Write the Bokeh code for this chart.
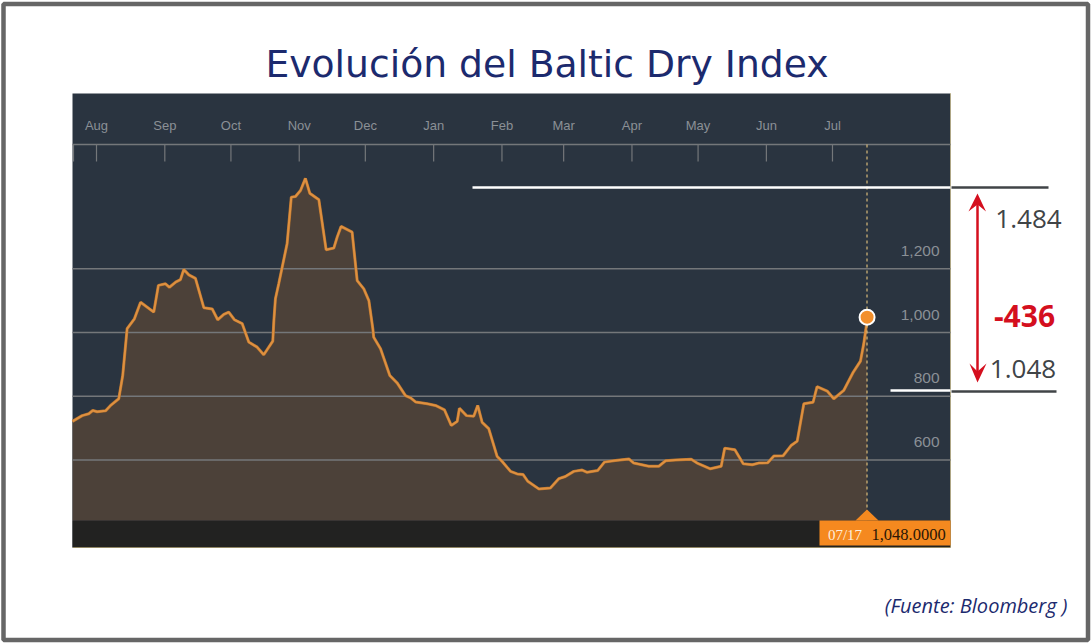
from bokeh.plotting import figure
from bokeh.models import Range1d
from bokeh.core.properties import value
from bokeh.embed import file_html
from bokeh.resources import INLINE

title = "Evolución del Baltic Dry Index"
source_note = "(Fuente: Bloomberg )"
months = ["Aug", "Sep", "Oct", "Nov", "Dec", "Jan", "Feb", "Mar", "Apr", "May", "Jun", "Jul"]
month_days = [0, 31, 61, 92, 122, 153, 184, 212, 243, 273, 304, 334]
y_ticks = [600, 800, 1000, 1200]
y_tick_labels = ["600", "800", "1,000", "1,200"]

days = [-10.9, -6.5, -3.5, -1.7, 0.3, 4.1, 6.4, 10.1, 11.9, 13.9, 17.2, 20, 26, 28.1, 31.3, 33.1, 35.9, 38.1, 39.6,
        41.9, 44.9, 48.7, 52.5, 55, 57.8, 60, 62.6, 66.1, 69.1, 72.9, 75.9, 80, 80.5, 81.2, 82.7, 86.5, 88.4, 90.3,
        92.6, 94.8, 96.8, 100.9, 104.2, 107.7, 109.2, 111, 116, 118.3, 121.3, 123.6, 125.4, 125.8, 128.9, 133.1,
        136.5, 140.2, 142.5, 144.8, 150.1, 153.8, 157.9, 161, 163.7, 164.7, 167.9, 171.2, 173, 175, 178, 181.8,
        184.1, 187.9, 190.9, 193.6, 195.7, 200.7, 206, 209.8, 212.8, 216.6, 220.4, 222.7, 227.5, 230.5, 235.5,
        241.6, 243.8, 250.6, 255.2, 258.2, 262.8, 269.9, 272.6, 278.6, 283.5, 285.1, 289.7, 293.5, 297.6, 300.5,
        304.6, 307.4, 311.6, 315.2, 318, 321, 325.2, 327, 331.6, 334.6, 339.1, 343.4, 346.7, 348.2, 349.4, 349.7]
bdi = [721, 739, 745, 755, 751, 754, 771, 792, 865, 1012, 1043, 1095, 1064, 1148, 1153, 1142, 1158, 1166, 1198,
       1181, 1170, 1078, 1074, 1040, 1057, 1064, 1040, 1028, 970, 954, 930, 973, 1038, 1106, 1153, 1279, 1425, 1427,
       1446, 1484, 1437, 1417, 1260, 1265, 1299, 1333, 1315, 1163, 1137, 1100, 1012, 985, 949, 865,
       841, 802, 795, 782, 776, 771, 757, 708, 721, 762, 739, 737, 771, 718, 698, 611,
       595, 564, 556, 554, 533, 509, 512, 541, 548, 564, 568, 561, 567, 593, 598,
       603, 590, 580, 580, 597, 600, 602, 590, 572, 580, 637, 632, 588, 585, 590,
       591, 612, 613, 645, 659, 776, 781, 830, 816, 792, 818, 875, 910, 965, 1022, 1048]
last_day, last_value = days[-1], bdi[-1]
high_label, low_label, diff_label = "1.484", "1.048", "-436"
tip_date, tip_value = "07/17", "1,048.0000"

PANEL, STRIP, FILL = "#2a3440", "#222221", "#4c4139"
ORANGE, GRID, TICKTXT = "#de9040", "#74777a", "#8b9096"
NAVY, DARK, RED = "#1c2a6e", "#404447", "#d40f1e"
BASE = 410

p = figure(width=1092, height=644, output_backend="svg", toolbar_location=None,
           x_range=Range1d(-43.57, 452), y_range=Range1d(20.4, 2042.4),
           min_border=0, outline_line_color=None, background_fill_color="white",
           border_fill_color="white")
p.axis.visible = False
p.grid.visible = False
p.extra_x_ranges["px"] = Range1d(0, 1092)
p.extra_y_ranges["px"] = Range1d(644, 0)
px = dict(x_range_name="px", y_range_name="px")
xpx = dict(x_range_name="px")
ypx = dict(y_range_name="px")

# outer frame and panel
p.quad(left=[3], right=[1087.5], top=[3.5], bottom=[639.5], fill_color="white", line_color="#666666", line_width=4.5, **px)
p.quad(left=[72], right=[950], top=[93], bottom=[547], fill_color=PANEL, line_color=None, **px)
p.quad(left=[72], right=[950], top=[520], bottom=[547], fill_color=STRIP, line_color=None, **px)
p.line([950, 950, 72], [93, 547, 547], line_color="#c9b26a", line_width=1, line_dash="1 1", **px)

# title
p.text([546.5], [63], text=[title], text_font=value("DejaVu Sans"), text_font_size="37.7px",
       text_color=NAVY, text_align="center", text_baseline="middle", **px)

# month strip
p.text(month_days, [125] * 12, text=months, text_font=value("Liberation Sans"), text_font_size="13px",
       text_color=TICKTXT, text_align="center", text_baseline="middle", **ypx)
p.line([72, 950], [144, 144], line_color=GRID, line_width=1.5, **px)
p.segment(month_days, [144] * 12, month_days, [161] * 12, line_color=GRID, line_width=1.2, **ypx)
p.segment([73], [144], [73], [161], line_color=GRID, line_width=1.2, **px)

# area and grid
p.varea(days, [BASE] * len(days), bdi, fill_color=FILL)
n = len(y_ticks)
p.segment([72] * n, y_ticks, [950] * n, y_ticks, line_color=GRID, line_width=1.5, x_range_name="px")
p.text([939] * n, y_ticks, text=y_tick_labels, text_font=value("Liberation Sans"), text_font_size="15.5px",
       text_color=TICKTXT, text_align="right", text_baseline="middle", y_offset=-18, **xpx)
p.line(days, bdi, line_color="#b0702e", line_width=3)
p.line(days, bdi, line_color=ORANGE, line_width=2)

# cursor
p.line([866.5, 866.5], [144, 512], line_color="#d9bb7a", line_width=1.2, line_dash="3 3", **px)
p.scatter([last_day], [last_value], size=15, fill_color="#f28f2c", line_color="white", line_width=2)
p.patch([855, 866.5, 878], [520, 509, 520], fill_color="#f5891f", line_color=None, **px)
p.quad(left=[819], right=[950], top=[520], bottom=[545], fill_color="#f5891f", line_color=None, **px)
p.text([844.5], [534], text=[tip_date], text_font=value("Liberation Serif"), text_font_size="15px",
       text_color="#fdeedd", text_align="center", text_baseline="middle", **px)
p.text([908], [534], text=[tip_value], text_font=value("Liberation Serif"), text_font_size="16.5px",
       text_color="#2b1606", text_align="center", text_baseline="middle", **px)

# difference annotation
p.line([472, 950], [187, 187], line_color="white", line_width=2.5, **px)
p.line([951, 1048], [187, 187], line_color=DARK, line_width=2.5, **px)
p.line([890, 950], [390, 390], line_color="white", line_width=2.5, **px)
p.line([951, 1056], [391, 391], line_color=DARK, line_width=2.5, **px)
p.line([977, 977], [203, 372], line_color=RED, line_width=2.5, **px)
p.patch([977, 968, 977, 985.5], [193, 211, 204, 211], fill_color=RED, line_color=None, **px)
p.patch([977, 969, 977, 986], [382, 363, 371, 363], fill_color=RED, line_color=None, **px)
p.text([1028], [218], text=[high_label], text_font=value("Open Sans"), text_font_size="26px",
       text_color=DARK, text_align="center", text_baseline="middle", **px)
p.text([1024], [315], text=[diff_label], text_font=value("Open Sans"), text_font_style="bold", text_font_size="30px",
       text_color=RED, text_align="center", text_baseline="middle", **px)
p.text([1022.5], [368], text=[low_label], text_font=value("Open Sans"), text_font_size="26px",
       text_color=DARK, text_align="center", text_baseline="middle", **px)
p.text([1067], [605], text=[source_note], text_font=value("Open Sans"), text_font_style="italic",
       text_font_size="20px", text_color=NAVY, text_align="right", text_baseline="middle", **px)

open("out.html", "w").write(file_html(p, INLINE))
